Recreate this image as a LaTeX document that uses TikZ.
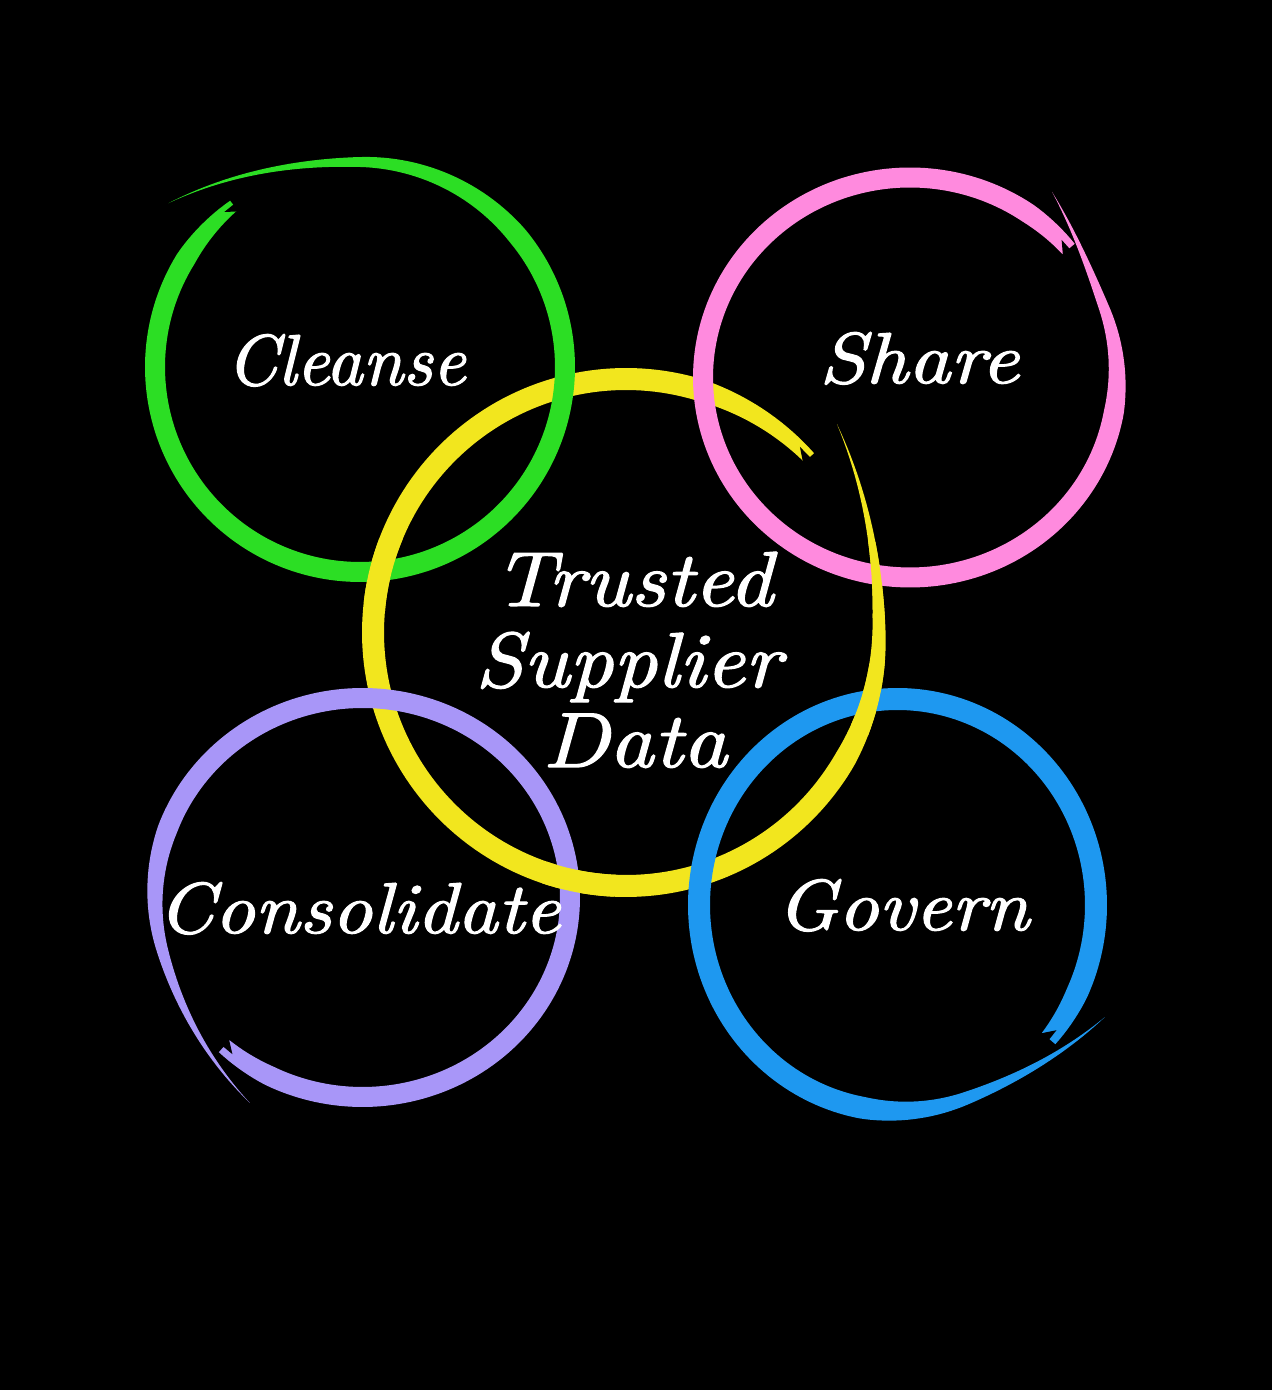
\documentclass[tikz,border=0pt]{standalone}
\usepackage{fontspec}
\usepackage{graphicx}
\setmainfont{Latin Modern Roman}
\newfontfamily\handfont{lmroman10-italic.otf}[FakeBold=1.6]
\begin{document}
\pgfkeys{/br/.is family,/br/.cd,
 cx/.store in=\brcx, cy/.store in=\brcy, rx/.store in=\brrx, ry/.store in=\brry,
 a/.store in=\bra, b/.store in=\brb, c/.store in=\brc, g/.store in=\brg, k/.store in=\brk,
 w/.store in=\brw, wi/.store in=\brwi, di/.store in=\brdi, col/.store in=\brcol,
 green/.style={cx=360,cy=1023,rx=205,ry=205,a=128,b=499.5,c=400,g=450,k=0.23,w=20,wi=0.6,di=20,col=ringgreen},
 pink/.style={cx=910,cy=1012.5,rx=207,ry=200,a=40,b=413.5,c=350,g=380,k=0.154,w=20,wi=0.8,di=15,col=ringpink},
 yellow/.style={cx=626,cy=757.5,rx=253,ry=253.5,a=43.6,b=404.6,c=330,g=360,k=0.171,w=22,wi=0.6,di=30,col=ringyellow},
 purple/.style={cx=362.5,cy=492.5,rx=207.5,ry=199.5,a=228.2,b=602.2,c=520,g=555,k=0.164,w=20,wi=0.8,di=15,col=ringpurple},
 blue/.style={cx=897.5,cy=485,rx=198.5,ry=206,a=319.6,b=692.5,c=620,g=650,k=0.178,w=22,wi=0.8,di=15,col=ringblue}}
\def\brW{(\brw*min(1,\brwi+(\t-\bra)/\brdi*(1-\brwi),(\brb-\t)/(\brb-\brc)))}
\def\brR{(1+\brk*(max(0,(\t-\brg)/(\brb-\brg)))^2)}
% a brush-stroke ring: tapered tail drifting outwards
\newcommand\brushring[1]{%
 \pgfkeys{/br/.cd,#1}%
 \fill[\brcol] plot[domain=\bra:\brb,samples=220,variable=\t]
   ({\brcx+(\brrx*\brR+\brW/2)*cos(\t)},{\brcy+(\brry*\brR+\brW/2)*sin(\t)})
   -- plot[domain=\brb:\bra,samples=220,variable=\t]
   ({\brcx+(\brrx*\brR-\brW/2)*cos(\t)},{\brcy+(\brry*\brR-\brW/2)*sin(\t)}) -- cycle;}
% the split (forked) start of the stroke
\newcommand\brushfork[1]{%
 \pgfkeys{/br/.cd,#1}%
 \fill[black] ({\brcx+(\brrx-0.5*\brw)*cos(\bra-1)},{\brcy+(\brry-0.5*\brw)*sin(\bra-1)})
   -- ({\brcx+(\brrx+0.05*\brw)*cos(\bra+3.2)},{\brcy+(\brry+0.05*\brw)*sin(\bra+3.2)})
   -- ({\brcx+(\brrx+0.05*\brw)*cos(\bra-1)},{\brcy+(\brry+0.05*\brw)*sin(\bra-1)}) -- cycle;}
\definecolor{ringgreen}{RGB}{44,222,36}
\definecolor{ringpink}{RGB}{255,138,222}
\definecolor{ringyellow}{RGB}{242,230,30}
\definecolor{ringpurple}{RGB}{168,150,248}
\definecolor{ringblue}{RGB}{30,152,240}
\newcommand\hx[2]{\scalebox{#1}[1]{#2}}
\begin{tikzpicture}[x=1pt,y=1pt,
  lbl/.style={text=white,anchor=base,inner sep=0pt,font=\fontsize{72}{86}\selectfont\handfont},
  biglbl/.style={lbl,font=\fontsize{78}{90}\selectfont\handfont}]
\fill[black] (0,0) rectangle (1272,1390);
\useasboundingbox (0,0) rectangle (1272,1390);
% central ring first
\brushring{yellow}
\brushfork{yellow}
% outer rings
\foreach \r in {green,pink,purple,blue}{
  \brushring{\r}
  \brushfork{\r}}
% yellow over the outer rings at these crossings
\foreach \px/\py in {390/575, 872/580, 580/880, 880/700}{
  \begin{scope}
    \clip (\px,1390-\py) circle (38);
    \brushring{yellow}
  \end{scope}}
% labels
\node[lbl] (cleanse) at (346,1005) {Cleanse};
\node[lbl] (share) at (919,1007) {\hx{1.15}{Share}};
\node[biglbl] (trusted) at (633,784) {\hx{1.1}{Trusted}};
\node[biglbl] (supplier) at (628,703) {\hx{1.1}{Supplier}};
\node[biglbl] (data) at (635,623) {\hx{1.12}{Data}};
\node[lbl] (consolidate) at (359,457) {\hx{1.1}{Consolidate}};
\node[lbl] (govern) at (903,460) {\hx{1.1}{Govern}};
\end{tikzpicture}
\end{document}
